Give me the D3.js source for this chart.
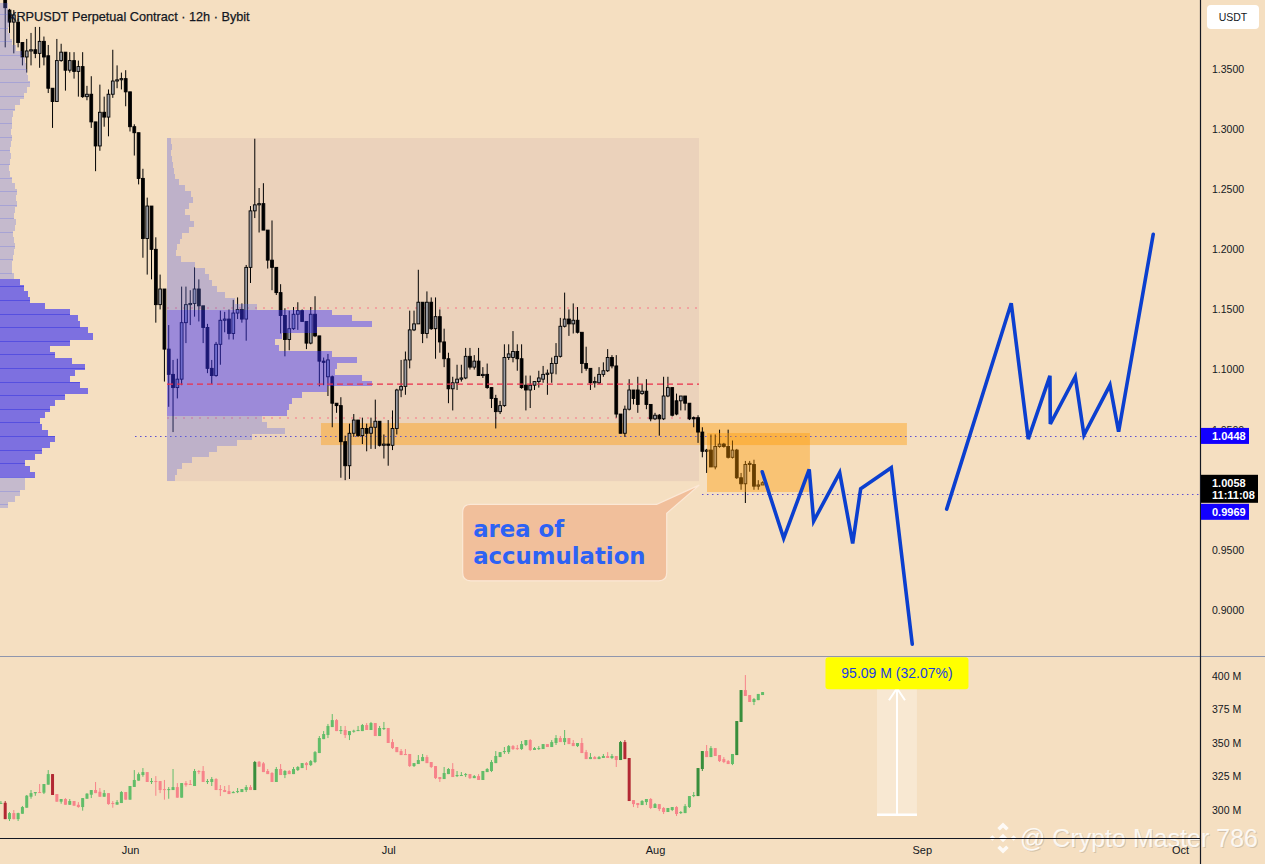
<!DOCTYPE html>
<html>
<head>
<meta charset="utf-8">
<script src="https://cdn.jsdelivr.net/npm/d3@7"></script>
<style>
  html, body { margin: 0; padding: 0; background: #f5dfc1; overflow: hidden; }
  svg { display: block; font-family: "Liberation Sans", Arial, sans-serif; }
</style>
</head>
<body>
<svg id="chart"></svg>
<script>
// ---------- data ----------
// 12h bars, first bar opens 2023-05-17 00:00 UTC
const startTime = Date.UTC(2023, 4, 17, 0);
const barMs = 12 * 3600 * 1000;

// price candles [open, high, low, close]
const priceOHLC = [
  [1.428,1.440,1.410,1.418],[1.416,1.424,1.368,1.401],[1.399,1.400,1.380,1.389],[1.389,1.399,1.363,1.395],
  [1.389,1.392,1.368,1.372],[1.372,1.372,1.353,1.360],[1.360,1.375,1.347,1.365],[1.365,1.380,1.353,1.366],
  [1.366,1.385,1.359,1.363],[1.363,1.385,1.351,1.373],[1.373,1.377,1.353,1.360],[1.361,1.370,1.330,1.334],
  [1.334,1.334,1.301,1.323],[1.323,1.375,1.323,1.357],[1.357,1.371,1.356,1.364],[1.364,1.364,1.332,1.349],
  [1.349,1.364,1.347,1.357],[1.357,1.364,1.342,1.348],[1.348,1.357,1.327,1.352],[1.352,1.364,1.326,1.327],
  [1.327,1.336,1.324,1.329],[1.329,1.344,1.301,1.306],[1.306,1.306,1.265,1.286],[1.286,1.337,1.282,1.314],
  [1.314,1.327,1.302,1.310],[1.310,1.333,1.294,1.329],[1.329,1.366,1.326,1.340],[1.340,1.353,1.334,1.341],
  [1.341,1.347,1.333,1.342],[1.342,1.349,1.319,1.331],[1.331,1.331,1.298,1.302],[1.302,1.304,1.278,1.297],
  [1.297,1.297,1.254,1.259],[1.259,1.267,1.193,1.209],[1.209,1.243,1.179,1.236],[1.236,1.236,1.175,1.200],
  [1.200,1.210,1.139,1.154],[1.154,1.179,1.150,1.167],[1.167,1.167,1.090,1.117],[1.117,1.137,1.069,1.096],
  [1.096,1.108,1.048,1.085],[1.085,1.109,1.076,1.092],[1.092,1.169,1.087,1.139],[1.139,1.169,1.122,1.154],
  [1.154,1.166,1.137,1.155],[1.155,1.185,1.144,1.167],[1.167,1.175,1.140,1.153],[1.153,1.153,1.122,1.135],
  [1.135,1.138,1.097,1.101],[1.101,1.108,1.088,1.095],[1.095,1.123,1.094,1.121],[1.121,1.149,1.104,1.141],
  [1.141,1.148,1.131,1.142],[1.142,1.150,1.125,1.130],[1.130,1.158,1.125,1.147],[1.147,1.160,1.142,1.150],
  [1.150,1.155,1.139,1.142],[1.142,1.187,1.124,1.185],[1.185,1.236,1.172,1.232],[1.232,1.292,1.226,1.237],
  [1.237,1.251,1.214,1.238],[1.238,1.255,1.216,1.216],[1.216,1.216,1.184,1.191],[1.191,1.224,1.166,1.185],
  [1.185,1.185,1.162,1.164],[1.164,1.171,1.130,1.145],[1.145,1.151,1.111,1.125],[1.125,1.149,1.116,1.134],
  [1.134,1.152,1.133,1.146],[1.146,1.156,1.133,1.149],[1.149,1.150,1.140,1.140],[1.140,1.140,1.117,1.122],
  [1.122,1.152,1.121,1.146],[1.146,1.161,1.127,1.128],[1.128,1.128,1.086,1.107],[1.107,1.110,1.087,1.106],
  [1.094,1.113,1.078,1.108],[1.094,1.095,1.052,1.072],[1.072,1.072,1.064,1.070],[1.070,1.077,1.010,1.040],
  [1.040,1.045,1.008,1.020],[1.020,1.055,1.009,1.047],[1.047,1.063,1.044,1.058],[1.058,1.058,1.044,1.045],
  [1.045,1.060,1.038,1.051],[1.051,1.055,1.032,1.047],[1.047,1.060,1.034,1.052],[1.052,1.075,1.034,1.057],
  [1.057,1.057,1.036,1.037],[1.037,1.046,1.026,1.038],[1.038,1.058,1.020,1.037],[1.037,1.066,1.033,1.051],
  [1.051,1.084,1.046,1.083],[1.083,1.108,1.077,1.086],[1.086,1.115,1.079,1.108],[1.108,1.149,1.101,1.133],
  [1.133,1.149,1.132,1.138],[1.138,1.183,1.138,1.156],[1.156,1.156,1.122,1.130],[1.130,1.165,1.126,1.156],
  [1.156,1.160,1.133,1.134],[1.134,1.160,1.109,1.144],[1.144,1.150,1.114,1.123],[1.123,1.134,1.102,1.109],
  [1.109,1.114,1.072,1.084],[1.084,1.094,1.066,1.089],[1.089,1.104,1.083,1.092],[1.092,1.104,1.090,1.093],
  [1.093,1.118,1.092,1.111],[1.111,1.118,1.100,1.102],[1.102,1.112,1.100,1.107],[1.107,1.118,1.095,1.095],
  [1.095,1.102,1.093,1.096],[1.096,1.105,1.084,1.085],[1.085,1.085,1.068,1.076],[1.076,1.079,1.051,1.065],
  [1.065,1.074,1.063,1.070],[1.070,1.121,1.069,1.110],[1.110,1.121,1.108,1.113],[1.110,1.132,1.106,1.115],
  [1.115,1.121,1.099,1.109],[1.109,1.121,1.084,1.085],[1.087,1.095,1.066,1.083],[1.083,1.095,1.068,1.087],
  [1.087,1.090,1.083,1.090],[1.090,1.099,1.085,1.093],[1.092,1.103,1.089,1.096],[1.096,1.100,1.079,1.097],
  [1.097,1.110,1.089,1.105],[1.105,1.122,1.096,1.111],[1.111,1.143,1.110,1.136],[1.136,1.164,1.135,1.142],
  [1.142,1.150,1.128,1.138],[1.138,1.155,1.130,1.141],[1.141,1.152,1.130,1.131],[1.131,1.131,1.097,1.105],
  [1.105,1.119,1.099,1.101],[1.101,1.101,1.083,1.089],[1.089,1.094,1.085,1.090],[1.089,1.102,1.088,1.096],
  [1.096,1.106,1.094,1.099],[1.099,1.117,1.098,1.110],[1.110,1.112,1.101,1.103],[1.103,1.112,1.060,1.063],
  [1.063,1.063,1.047,1.047],[1.047,1.070,1.044,1.067],[1.067,1.092,1.066,1.083],[1.083,1.083,1.071,1.076],
  [1.083,1.094,1.064,1.071],[1.080,1.088,1.079,1.082],[1.082,1.092,1.067,1.071],[1.071,1.071,1.057,1.059],
  [1.059,1.064,1.058,1.062],[1.062,1.063,1.045,1.059],[1.059,1.094,1.058,1.078],[1.078,1.094,1.077,1.085],
  [1.085,1.085,1.061,1.062],[1.074,1.080,1.062,1.063],[1.074,1.078,1.066,1.078],[1.078,1.078,1.066,1.072],
  [1.072,1.072,1.058,1.059],[1.060,1.061,1.052,1.059],[1.060,1.062,1.039,1.048],[1.048,1.052,1.027,1.032],
  [1.032,1.034,1.014,1.033],[1.033,1.046,1.019,1.019],[1.019,1.046,1.017,1.036],[1.036,1.050,1.035,1.038],
  [1.038,1.039,1.035,1.036],[1.036,1.050,1.026,1.027],[1.027,1.041,1.026,1.033],[1.033,1.034,1.009,1.010],
  [1.010,1.014,1.000,1.005],[1.005,1.024,0.989,1.021],[1.021,1.024,1.015,1.022],[1.021,1.025,1.000,1.003],
  [1.003,1.008,1.000,1.004],[1.004,1.007,1.004,1.0058]
];

// lower pane indicator candles, millions [open, high, low, close]
const oiOHLC = [
  [304.6,306.7,304.6,305.3],[305.4,306.7,293.2,293.2],[293.2,298.5,291.8,297.7],[297.7,300.0,293.0,293.2],
  [293.2,298.0,291.8,297.7],[297.2,303.0,297.2,302.2],[301.7,311.2,301.7,310.7],[309.9,314.9,308.4,312.6],
  [312.5,313.4,310.6,313.4],[313.4,319.4,312.9,312.9],[312.9,319.4,311.9,319.4],[318.9,329.8,318.9,326.8],
  [326.8,326.8,311.2,311.2],[311.9,311.9,306.2,306.2],[306.2,308.2,304.7,308.2],[308.2,308.9,303.9,303.9],
  [303.9,308.2,303.9,306.7],[306.7,306.7,303.2,303.2],[303.9,305.9,301.7,302.2],[302.2,308.9,299.5,308.9],
  [308.4,312.6,308.4,312.2],[311.4,314.9,308.9,314.9],[314.9,320.9,312.6,312.6],[313.6,316.4,309.9,309.9],
  [309.9,314.9,309.9,312.6],[312.6,312.6,303.9,304.4],[305.2,306.7,301.7,304.7],[304.0,307.4,304.0,305.9],
  [305.2,314.1,305.2,313.4],[313.4,313.4,307.7,307.7],[307.7,317.9,307.7,317.9],[317.2,329.8,317.2,322.4],
  [321.9,328.0,321.9,326.8],[326.1,331.3,324.8,328.3],[328.3,328.3,320.9,320.9],[320.9,323.8,319.4,321.6],
  [321.6,325.3,310.6,321.1],[321.6,321.6,312.6,314.9],[315.6,322.4,307.7,315.1],[315.1,317.1,308.4,315.6],
  [314.9,330.6,314.9,317.1],[317.1,320.1,309.2,309.2],[309.2,320.1,309.2,320.1],[320.1,321.6,317.4,318.6],
  [319.4,322.4,318.9,318.9],[317.9,330.6,317.9,329.1],[329.1,329.8,326.8,328.3],[329.1,332.8,320.9,320.9],
  [320.9,323.1,319.4,321.6],[320.9,324.6,317.9,323.1],[323.1,323.8,314.9,314.9],[315.6,318.6,310.4,315.1],
  [314.9,317.9,313.4,313.4],[314.1,318.6,311.9,311.9],[312.6,314.1,312.6,313.4],[313.4,316.4,312.6,314.1],
  [313.4,315.6,313.4,315.6],[314.9,318.6,313.4,317.1],[317.1,318.6,314.9,314.9],[314.9,336.6,314.9,335.8],
  [336.0,336.6,332.3,332.3],[334.8,335.8,328.3,328.3],[329.1,330.6,326.8,326.8],[327.6,328.3,320.9,320.9],
  [320.9,332.1,320.9,330.6],[330.6,334.3,326.1,326.1],[326.1,329.8,323.8,329.1],[329.1,329.8,326.8,326.8],
  [326.8,332.1,326.8,330.6],[329.8,332.8,329.1,332.1],[331.3,335.0,331.3,335.0],[335.0,335.8,329.8,333.5],
  [333.5,337.3,332.8,336.5],[335.8,344.0,335.0,343.2],[342.5,355.2,342.5,353.7],[352.9,358.9,352.9,356.7],
  [356.0,364.2,353.7,362.7],[361.9,371.6,361.9,367.1],[367.1,367.9,358.9,358.9],[358.9,362.7,356.7,359.7],
  [359.7,362.7,353.7,355.9],[355.9,358.9,352.2,358.9],[358.4,359.9,357.7,359.2],[358.9,362.7,358.9,359.7],
  [358.9,364.2,358.9,363.4],[363.4,364.9,359.7,359.7],[359.7,365.7,359.7,364.9],[364.9,364.9,355.2,355.2],
  [355.2,362.7,355.2,361.2],[360.4,365.7,359.7,361.2],[361.2,361.2,350.0,350.0],[350.7,352.9,345.5,346.2],
  [347.0,347.0,343.2,343.2],[344.0,345.5,341.0,341.0],[341.8,345.5,341.0,341.0],[341.8,341.8,332.1,332.8],
  [332.8,335.0,332.1,335.0],[334.3,341.0,334.3,337.3],[336.5,341.8,336.5,339.5],[339.5,341.0,335.0,335.0],
  [335.8,335.8,331.3,332.1],[332.8,332.8,323.1,323.8],[324.6,324.6,320.9,323.1],[323.1,332.1,323.1,327.6],
  [326.8,331.3,326.8,330.6],[330.6,335.0,324.6,324.6],[325.3,329.1,324.6,326.1],[325.6,328.3,325.6,326.1],
  [326.1,327.6,324.6,326.8],[326.8,326.8,323.1,323.8],[323.8,326.1,323.8,325.3],[325.3,326.8,322.4,322.4],
  [322.4,329.1,322.4,329.1],[328.3,331.3,328.3,330.6],[329.1,337.3,328.3,335.8],[335.0,344.0,335.0,340.3],
  [339.5,343.2,339.5,343.2],[343.2,347.0,341.8,344.0],[343.2,348.5,341.8,347.7],[347.7,348.5,344.8,345.5],
  [346.2,348.5,344.8,345.5],[345.5,351.5,344.8,349.2],[348.5,352.2,347.7,352.2],[352.2,352.9,344.0,344.8],
  [344.8,347.0,344.8,346.2],[345.5,347.7,344.8,346.2],[345.5,349.2,345.5,349.2],[349.2,349.2,347.0,347.0],
  [347.0,352.2,347.0,350.7],[350.0,355.9,348.5,353.7],[353.7,355.2,350.7,350.7],[350.7,359.7,348.5,353.7],
  [353.7,353.7,349.2,349.2],[350.0,352.2,347.7,347.7],[347.7,350.0,347.0,350.0],[350.0,353.7,342.5,342.5],
  [343.2,344.8,338.0,338.0],[338.0,342.5,338.0,339.5],[339.5,340.3,338.0,338.0],[338.0,340.3,338.0,339.5],
  [338.8,341.8,338.8,340.3],[340.3,343.2,338.8,338.8],[338.8,341.8,338.0,340.3],[340.3,340.3,332.1,337.3],
  [337.3,351.5,337.3,350.7],[350.7,352.2,338.0,338.0],[338.8,338.8,306.7,306.7],[307.4,307.4,302.2,304.4],
  [305.2,305.2,301.5,303.7],[303.7,307.4,303.7,306.7],[305.9,308.2,303.7,308.2],[308.2,308.9,300.7,301.5],
  [301.5,305.2,301.5,304.4],[304.4,304.4,299.2,300.7],[301.5,302.2,297.0,298.5],[298.5,301.5,298.5,301.5],
  [300.0,302.2,299.2,302.2],[302.2,302.9,295.5,297.0],[297.7,299.2,297.0,298.5],[297.7,304.4,297.7,302.9],
  [302.2,310.4,301.5,310.4],[310.4,313.4,309.6,311.2],[310.4,331.3,310.4,331.3],[330.6,344.0,329.1,344.0],
  [344.0,348.5,339.5,339.5],[339.5,347.7,339.5,346.2],[346.2,346.2,340.3,340.3],[341.0,341.0,335.8,336.5],
  [338.0,339.5,335.0,335.8],[336.5,337.3,334.3,334.3],[334.3,341.8,333.5,341.8],[341.0,366.4,341.0,366.4],
  [365.7,389.5,365.7,389.5],[389.5,400.7,385.1,385.1],[385.8,385.8,380.6,380.6],[380.6,383.6,378.3,382.8],
  [382.0,386.6,382.0,386.6],[385.8,388.0,385.8,388.0]
];

const monthTicks = ['2023-06-01', '2023-07-01', '2023-08-01', '2023-09-01', '2023-10-01'];
// 1.0000 sits under the last-price badge, so it is left out
const priceTicks = [0.90, 0.95, 1.05, 1.10, 1.15, 1.20, 1.25, 1.30, 1.35];
const oiTicks = [300, 325, 350, 375, 400];

// visible-range volume profile (left edge), rows of 0.005 from 1.405 down
const leftProfileTop = 1.405;
const leftProfileStep = 0.005;
const leftValueArea = [1.011, 1.176];
const leftProfileVol = [
  8,8,8,9,8,10,12,16,22,25,26,27,28,30,27,24,20,15,13,12,12,11,12,11,10,11,10,9,10,12,
  15,17,16,17,15,14,16,15,13,14,15,14,13,12,12,14,
  20,24,28,30,45,70,78,80,88,93,70,50,55,72,85,75,70,80,88,65,55,50,45,40,42,48,55,50,42,35,25,30,35,
  25,25,20,15,8
];
// coarse row separators of the left profile
const leftRowTop = 1.4069;
const leftRowStep = 0.01132;

// fixed-range profile box
const rangeStart = '2023-06-05T07:10Z';
const rangeEnd = '2023-08-06T02:40Z';
const rangeHigh = 1.2926;
const rangeLow = 1.0072;
const rangeVAH = 1.1512;
const rangePOC = 1.0879;
const rangeVAL = 1.0597;
const rangeProfileVol = [
  4,5,4,5,6,7,8,12,18,24,26,22,18,23,27,22,15,13,10,9,14,28,38,42,45,50,58,68,90,
  165,185,205,150,115,108,112,165,190,170,168,195,205,160,135,125,122,120,
  95,100,118,85,70,50,42,25,15,10,8
];

// orange zones [start, end, high, low]
const supportZone = ['2023-06-23T04:30Z', '2023-08-30T06:30Z', 1.0555, 1.0372];
const accumZone = ['2023-08-07T01:00Z', '2023-08-19T00:00Z', 1.0472, 0.9981];

// projected paths
const pathDown = [
  ['2023-08-13T11:00Z', 1.0150], ['2023-08-15T22:50Z', 0.9596], ['2023-08-18T22:00Z', 1.0170],
  ['2023-08-19T10:30Z', 0.9740], ['2023-08-22T11:00Z', 1.0142], ['2023-08-23T23:15Z', 0.9554],
  ['2023-08-24T21:30Z', 1.0008], ['2023-08-28T10:50Z', 1.0183], ['2023-08-30T21:20Z', 0.8716]
];
const pathUp = [
  ['2023-09-03T21:20Z', 0.9839], ['2023-09-11T09:20Z', 1.1551], ['2023-09-13T08:50Z', 1.0422],
  ['2023-09-15T21:20Z', 1.0948], ['2023-09-15T22:20Z', 1.0547], ['2023-09-18T20:00Z', 1.0940],
  ['2023-09-19T20:10Z', 1.0455], ['2023-09-22T20:40Z', 1.0871], ['2023-09-23T20:50Z', 1.0483],
  ['2023-09-27T21:20Z', 1.2125]
];

// horizontal rays [from, price]
const rays = [['2023-06-01T14:00Z', 1.0448], ['2023-08-06T11:00Z', 0.9969]];
const lastPrice = 1.0058;
const countdown = '11:11:08';

// callout: box corners and pointer tip
const calloutText = ['area of', 'accumulation'];
const calloutBox = [['2023-07-09T15:40Z', 0.9879], ['2023-08-02T08:40Z', 0.9243]];
const calloutTip = ['2023-08-06T03:20Z', 1.0039];

// price range measure in the lower pane
const measure = { start: '2023-08-26T19:00Z', end: '2023-08-31T10:30Z', from: 296.5, to: 391.59 };

// ---------- layout ----------
const W = 1265, H = 864;
const plotRight = 1200, paneSplit = 656, timeAxisY = 838;
const bg = '#f5dfc1';
const t = s => new Date(s);
const barTime = i => new Date(startTime + i * barMs);

const x = d3.scaleUtc().domain([t('2023-06-01'), t('2023-10-01')]).range([130, 1180]);
const y = d3.scaleLinear().domain([0.90, 1.35]).range([610, 69]);
const yOi = d3.scaleLinear().domain([300, 400]).range([810, 676]);
const profW = d3.scaleLinear().domain([0, 100]).range([0, 100]);

const svg = d3.select('#chart').attr('width', W).attr('height', H);
svg.append('rect').attr('width', W).attr('height', H).attr('fill', bg);

const defs = svg.append('defs');
defs.append('clipPath').attr('id', 'clipUpper').append('rect')
  .attr('x', 0).attr('y', 0).attr('width', plotRight).attr('height', paneSplit);
defs.append('clipPath').attr('id', 'clipLower').append('rect')
  .attr('x', 0).attr('y', paneSplit).attr('width', plotRight).attr('height', timeAxisY - paneSplit);

const upperG = svg.append('g').attr('clip-path', 'url(#clipUpper)');
const lowerG = svg.append('g').attr('clip-path', 'url(#clipLower)');

// ---------- upper pane ----------
// range box
upperG.append('rect')
  .attr('x', x(t(rangeStart))).attr('y', y(rangeHigh))
  .attr('width', x(t(rangeEnd)) - x(t(rangeStart)))
  .attr('height', y(rangeLow) - y(rangeHigh))
  .attr('fill', '#ebd2bb');

// support zone (under candles)
upperG.append('rect')
  .attr('x', x(t(supportZone[0]))).attr('y', y(supportZone[2]))
  .attr('width', x(t(supportZone[1])) - x(t(supportZone[0])))
  .attr('height', y(supportZone[3]) - y(supportZone[2]))
  .attr('fill', 'rgba(255,152,0,0.4)');

// value area high / low
[rangeVAH, rangeVAL].forEach(p => {
  upperG.append('line')
    .attr('x1', x(t(rangeStart))).attr('x2', x(t(rangeEnd)))
    .attr('y1', y(p)).attr('y2', y(p))
    .attr('stroke', '#f2a3a0').attr('stroke-width', 2).attr('stroke-dasharray', '2,6');
});

// horizontal rays
rays.forEach(r => {
  upperG.append('line')
    .attr('x1', x(t(r[0]))).attr('x2', plotRight)
    .attr('y1', Math.round(y(r[1])) + 0.5).attr('y2', Math.round(y(r[1])) + 0.5)
    .attr('stroke', '#5b4fd1').attr('stroke-width', 1).attr('stroke-dasharray', '1.5,3.5');
});

// title
svg.append('text')
  .attr('x', 8).attr('y', 20.5)
  .attr('font-size', 12.7).attr('fill', '#131722')
  .attr('stroke', '#131722').attr('stroke-width', 0.25)
  .text('XRPUSDT Perpetual Contract · 12h · Bybit');

// price candles
const candles = upperG.append('g').selectAll('g').data(priceOHLC).join('g');
candles.append('line')
  .attr('x1', (d, i) => x(barTime(i))).attr('x2', (d, i) => x(barTime(i)))
  .attr('y1', d => y(d[1])).attr('y2', d => y(d[2]))
  .attr('stroke', '#000').attr('stroke-width', 1);
candles.append('rect')
  .attr('x', (d, i) => x(barTime(i)) - 1.4).attr('width', 2.8)
  .attr('y', d => y(Math.max(d[0], d[3])))
  .attr('height', d => Math.max(1, Math.abs(y(d[0]) - y(d[3]))))
  .attr('fill', d => d[3] >= d[0] ? '#9a9ca3' : '#000')
  .attr('stroke', '#000').attr('stroke-width', 0.9);

// profiles drawn over the candles
function drawProfile(g, vols, topPrice, step, x0, va, inColor, outColor) {
  const rowY = i => Math.round(y(topPrice - i * step));
  g.append('g').attr('shape-rendering', 'crispEdges')
    .selectAll('rect').data(vols).join('rect')
    .attr('x', Math.round(x0))
    .attr('y', (d, i) => rowY(i))
    .attr('width', d => profW(d))
    .attr('height', (d, i) => rowY(i + 1) - rowY(i))
    .attr('fill', (d, i) => {
      const mid = topPrice - (i + 0.5) * step;
      return mid >= va[0] && mid <= va[1] ? inColor : outColor;
    });
}
drawProfile(upperG, leftProfileVol, leftProfileTop, leftProfileStep, 0, leftValueArea,
  'rgba(25,20,250,0.55)', 'rgba(95,110,230,0.32)');
drawProfile(upperG, rangeProfileVol, rangeHigh, (rangeHigh - rangeLow) / rangeProfileVol.length,
  x(t(rangeStart)), [rangeVAL, rangeVAH], 'rgba(60,50,255,0.45)', 'rgba(95,110,230,0.32)');

// row separators across the left profile
const sepPrices = d3.range(0, 45).map(k => leftRowTop - k * leftRowStep);
const inLeftVA = p => p >= leftValueArea[0] && p <= leftValueArea[1];
upperG.append('g').attr('shape-rendering', 'crispEdges')
  .selectAll('line').data(sepPrices).join('line')
  .attr('x1', 0)
  .attr('x2', p => {
    const k = Math.floor((leftProfileTop - p) / leftProfileStep);
    return k >= 0 && k < leftProfileVol.length ? profW(leftProfileVol[k]) : 0;
  })
  .attr('y1', p => Math.round(y(p)) + 0.5).attr('y2', p => Math.round(y(p)) + 0.5)
  .attr('stroke', p => inLeftVA(p) ? 'rgba(40,40,225,0.45)' : 'rgba(90,105,230,0.28)')
  .attr('stroke-width', 1);

// point of control
upperG.append('line')
  .attr('x1', x(t(rangeStart))).attr('x2', x(t(rangeEnd)))
  .attr('y1', y(rangePOC)).attr('y2', y(rangePOC))
  .attr('stroke', '#ec2f4b').attr('stroke-width', 1.3).attr('stroke-dasharray', '6,4');

// accumulation zone (over candles)
upperG.append('rect')
  .attr('x', x(t(accumZone[0]))).attr('y', y(accumZone[2]))
  .attr('width', x(t(accumZone[1])) - x(t(accumZone[0])))
  .attr('height', y(accumZone[3]) - y(accumZone[2]))
  .attr('fill', 'rgba(255,152,0,0.4)');

// projected paths
const path = d3.line().x(d => x(t(d[0]))).y(d => y(d[1]));
[pathDown, pathUp].forEach(p => {
  upperG.append('path').attr('d', path(p))
    .attr('fill', 'none').attr('stroke', '#0b3fcf').attr('stroke-width', 3.6)
    .attr('stroke-linejoin', 'miter').attr('stroke-linecap', 'round');
});

// callout
const bx0 = x(t(calloutBox[0][0])), by0 = y(calloutBox[0][1]);
const bx1 = x(t(calloutBox[1][0])), by1 = y(calloutBox[1][1]);
const tipX = x(t(calloutTip[0])), tipY = y(calloutTip[1]);
const r = 8;
const calloutPath = [
  `M${bx0 + r},${by0}`, `L${bx1 - 10},${by0}`, `L${tipX},${tipY}`, `L${bx1},${by0 + 9}`,
  `L${bx1},${by1 - r}`, `Q${bx1},${by1} ${bx1 - r},${by1}`,
  `L${bx0 + r},${by1}`, `Q${bx0},${by1} ${bx0},${by1 - r}`,
  `L${bx0},${by0 + r}`, `Q${bx0},${by0} ${bx0 + r},${by0}`, 'Z'
].join(' ');
upperG.append('path').attr('d', calloutPath)
  .attr('fill', '#f1bf9b').attr('stroke', '#fbe8d6').attr('stroke-width', 1.2);
upperG.append('g').selectAll('text').data(calloutText).join('text')
  .attr('x', bx0 + 10.5).attr('y', (d, i) => by0 + 32.5 + i * 27.5)
  .attr('font-family', '"DejaVu Sans", sans-serif').attr('font-weight', 'bold')
  .attr('font-size', 22.8).attr('fill', '#2d62f4')
  .text(d => d);

// ---------- lower pane ----------
const oiColor = d => {
  const up = d[3] >= d[0];
  const big = Math.abs(d[3] - d[0]) > 12;
  if (up) return big ? '#388e3c' : '#62bd69';
  return big ? '#b22833' : '#f7838a';
};
const oiBars = lowerG.append('g').selectAll('g').data(oiOHLC).join('g');
oiBars.append('line')
  .attr('x1', (d, i) => x(barTime(i))).attr('x2', (d, i) => x(barTime(i)))
  .attr('y1', d => yOi(d[1])).attr('y2', d => yOi(d[2]))
  .attr('stroke', oiColor).attr('stroke-width', 1);
oiBars.append('rect')
  .attr('x', (d, i) => x(barTime(i)) - 1.5).attr('width', 3)
  .attr('y', d => yOi(Math.max(d[0], d[3])))
  .attr('height', d => Math.max(1, Math.abs(yOi(d[0]) - yOi(d[3]))))
  .attr('fill', oiColor);

// price range measure
const mx0 = x(t(measure.start)), mx1 = x(t(measure.end)), mxc = (mx0 + mx1) / 2;
const my0 = yOi(measure.from), my1 = yOi(measure.to);
lowerG.append('rect')
  .attr('x', mx0).attr('y', my1).attr('width', mx1 - mx0).attr('height', my0 - my1)
  .attr('fill', 'rgba(255,255,255,0.28)');
lowerG.append('line').attr('x1', mx0).attr('x2', mx1).attr('y1', my0).attr('y2', my0)
  .attr('stroke', '#fff').attr('stroke-width', 2.5);
lowerG.append('line').attr('x1', mxc).attr('x2', mxc).attr('y1', my0).attr('y2', my1 + 1)
  .attr('stroke', '#fff').attr('stroke-width', 2);
lowerG.append('path').attr('d', `M${mxc - 8},${my1 + 13} L${mxc},${my1 + 1} L${mxc + 8},${my1 + 13}`)
  .attr('fill', 'none').attr('stroke', '#fff').attr('stroke-width', 2);

const diff = measure.to - measure.from;
const labelText = `${diff.toFixed(2)} M (${(diff / measure.from * 100).toFixed(2)}%)`;
svg.append('rect')
  .attr('x', mxc - 71.5).attr('y', my1 - 30).attr('width', 143).attr('height', 32).attr('rx', 3)
  .attr('fill', '#ffff00');
svg.append('text')
  .attr('x', mxc).attr('y', my1 - 9).attr('text-anchor', 'middle')
  .attr('font-size', 14).attr('fill', '#1b3ee0')
  .text(labelText);

// ---------- watermark (under the axes) ----------
const wm = svg.append('g');
const logo = wm.append('g').attr('transform', 'translate(1003,838) rotate(45)')
  .attr('fill', 'rgba(255,255,255,0.85)');
logo.append('rect').attr('x', -3).attr('y', -3).attr('width', 6).attr('height', 6);
logo.append('rect').attr('x', -9.5).attr('y', 5.5).attr('width', 4).attr('height', 4);
logo.append('rect').attr('x', 5.5).attr('y', -9.5).attr('width', 4).attr('height', 4);
logo.append('path').attr('d', 'M-11,-3 L-11,-11 L-3,-11 L-3,-7.5 L-7.5,-7.5 L-7.5,-3 Z');
logo.append('path').attr('d', 'M11,3 L11,11 L3,11 L3,7.5 L7.5,7.5 L7.5,3 Z');
wm.append('text').attr('x', 1021).attr('y', 848)
  .attr('font-size', 25).attr('fill', 'rgba(120,110,100,0.25)')
  .text('@ Crypto Master 786');
wm.append('text').attr('x', 1020).attr('y', 847)
  .attr('font-size', 25).attr('fill', 'rgba(255,255,255,0.85)')
  .text('@ Crypto Master 786');

// ---------- frame and axes ----------
svg.append('line').attr('x1', 0).attr('x2', W).attr('y1', paneSplit + 0.5).attr('y2', paneSplit + 0.5)
  .attr('stroke', '#8f96ad').attr('stroke-width', 1);
svg.append('line').attr('x1', 0).attr('x2', plotRight).attr('y1', timeAxisY + 0.5).attr('y2', timeAxisY + 0.5)
  .attr('stroke', '#131722').attr('stroke-width', 1.2);
svg.append('line').attr('x1', plotRight + 0.5).attr('x2', plotRight + 0.5).attr('y1', 0).attr('y2', H)
  .attr('stroke', '#131722').attr('stroke-width', 1.2);

const styleAxis = g => {
  g.select('.domain').remove();
  g.attr('font-family', '"Liberation Sans", Arial, sans-serif').attr('font-size', 10.5);
  g.selectAll('text').attr('fill', '#131722');
};

svg.append('g').attr('transform', `translate(${plotRight},0)`)
  .call(d3.axisRight(y).tickValues(priceTicks).tickSize(0).tickPadding(12).tickFormat(d3.format('.4f')))
  .call(styleAxis);

svg.append('g').attr('transform', `translate(${plotRight},0)`)
  .call(d3.axisRight(yOi).tickValues(oiTicks).tickSize(0).tickPadding(12).tickFormat(d => `${d} M`))
  .call(styleAxis);

svg.append('g').attr('transform', `translate(0,${timeAxisY})`)
  .call(d3.axisBottom(x).tickValues(monthTicks.map(t)).tickSize(0).tickPadding(8).tickFormat(d3.utcFormat('%b')))
  .call(styleAxis)
  .call(g => g.attr('font-size', 11));

// USDT badge
svg.append('rect').attr('x', 1207).attr('y', 5).attr('width', 52).attr('height', 24).attr('rx', 4)
  .attr('fill', '#fff');
svg.append('text').attr('x', 1233).attr('y', 21).attr('text-anchor', 'middle')
  .attr('font-size', 10.5).attr('fill', '#131722').text('USDT');

// price labels on the axis
const fmt = d3.format('.4f');
const rayY = y(rays[0][1]);
svg.append('rect').attr('x', plotRight + 1).attr('y', rayY - 8).attr('width', 48).attr('height', 16)
  .attr('fill', '#1200ff');
svg.append('text').attr('x', plotRight + 12).attr('y', rayY + 4)
  .attr('font-size', 11).attr('font-weight', 'bold').attr('fill', '#fff').text(fmt(rays[0][1]));

const lastY = y(lastPrice);
svg.append('rect').attr('x', plotRight + 1).attr('y', lastY - 8).attr('width', 57).attr('height', 28)
  .attr('fill', '#000');
svg.append('text').attr('x', plotRight + 12).attr('y', lastY + 4)
  .attr('font-size', 11).attr('font-weight', 'bold').attr('fill', '#fff').text(fmt(lastPrice));
svg.append('text').attr('x', plotRight + 12).attr('y', lastY + 16.5)
  .attr('font-size', 11).attr('font-weight', 'bold').attr('fill', '#fff').text(countdown);

const lowY = Math.max(y(rays[1][1]) - 8, lastY + 21);
svg.append('rect').attr('x', plotRight + 1).attr('y', lowY).attr('width', 48).attr('height', 16)
  .attr('fill', '#1200ff');
svg.append('text').attr('x', plotRight + 12).attr('y', lowY + 12)
  .attr('font-size', 11).attr('font-weight', 'bold').attr('fill', '#fff').text(fmt(rays[1][1]));
</script>
</body>
</html>
